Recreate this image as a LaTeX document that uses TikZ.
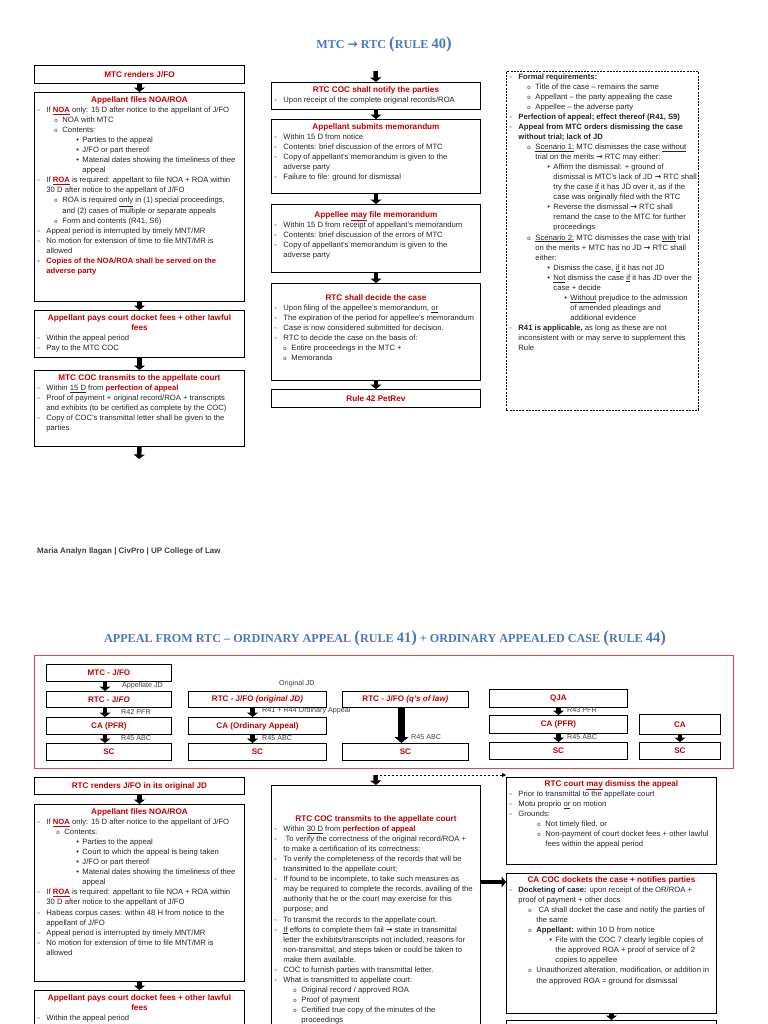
\documentclass[tikz,border=0pt]{standalone}
\usepackage{fontspec}
\setmainfont{Liberation Sans}
\newfontfamily\titlefont{Liberation Serif}
\newfontfamily\arwfont{DejaVu Sans}
\usepackage{xcolor}
\usepackage{tikz}
\usetikzlibrary{arrows.meta,positioning}
\definecolor{ink}{HTML}{262626}
\definecolor{hdred}{HTML}{C00000}
\definecolor{frame}{HTML}{E04A44}
\definecolor{ttl}{HTML}{4A78C0}
\definecolor{lblgray}{HTML}{404040}

\newcommand\bodyfont{\fontsize{7.7}{10.1}\selectfont}
\newcommand\hdfont{\fontsize{8.2}{10.1}\selectfont\bfseries}
\newcommand\ra{{\arwfont\bfseries →}}
\newcommand\nr[1]{\textcolor{hdred}{\bfseries\underline{#1}}}
\newcommand\hd[1]{\par{\centering\hdfont\color{hdred}#1\par}}
% list lines: bullet indent, text indent, symbol, text
\newcommand\itm[4]{\par\hangindent=#2\hangafter=1\noindent\hspace*{#1}\makebox[\dimexpr#2-#1\relax][l]{#3}#4\par}
\newcommand\la[1]{\itm{3bp}{12bp}{-}{#1}}
\newcommand\lb[2][20bp]{\itm{#1}{\dimexpr#1+8bp\relax}{{\fontsize{6}{5}\selectfont o}}{#2}}
\newcommand\lc[2][42bp]{\itm{#1}{\dimexpr#1+6bp\relax}{•}{#2}}
\newcommand\ld[1]{\itm{58bp}{64bp}{•}{#1}}
% card text: gap, width, height, content
\newcommand\ct[4][4bp]{\begin{minipage}[t][#3][t]{#2}\bodyfont\color{ink}\raggedright\vspace*{#1}#4\end{minipage}}
\newcommand\bigp[1]{{\fontsize{17}{17}\selectfont#1}}
\newcommand\midp[1]{{\fontsize{14.5}{15}\selectfont#1}}

\begin{document}
\begin{tikzpicture}[x=1bp,y=-1bp,
  card/.style={draw=black,line width=0.9bp,inner sep=0pt,anchor=north west},
  dcard/.style={card,dash pattern=on 2bp off 1.2bp},
  bar/.style={card,minimum height=18bp,font=\hdfont,text=hdred},
  flow/.style={card,minimum height=17bp,font=\fontsize{8.1}{9}\selectfont\bfseries,text=hdred},
  lbl/.style={inner sep=0pt,anchor=west,font=\fontsize{7.2}{8}\selectfont,text=lblgray},
  blk/.style={-{Triangle[width=11bp,length=4.5bp]},line width=4.5bp,black},
  bigblk/.style={-{Triangle[width=14bp,length=6bp]},line width=6.5bp,black},
  dsh/.style={-{Triangle[width=4bp,length=4bp]},line width=0.8bp,dash pattern=on 2.5bp off 1.5bp},
  ttlnode/.style={inner sep=0pt,font=\titlefont\bfseries\fontsize{12.2}{13}\selectfont,text=ttl}
]
\useasboundingbox (0,0) rectangle (768,1024);
\clip (0,0) rectangle (768,1024);
\fill[white] (0,0) rectangle (768,1024);

%% page 1: MTC -> RTC
\node[ttlnode] (t1) at (384,44) {MTC {\arwfont →} RTC \bigp{(}RULE \midp{40}\bigp{)}};

% left column
\node[bar,minimum width=210bp] (a1) at (34,65) {MTC renders J/FO};
\node[card] (a2) at (34,92) {\ct{210bp}{209bp}{%
  \hd{Appellant files NOA/ROA}
  \la{If \nr{NOA} only: 15 D after notice to the appellant of J/FO}
  \lb{NOA with MTC}
  \lb{Contents:}
  \lc{Parties to the appeal}
  \lc{J/FO or part thereof}
  \lc{Material dates showing the timeliness of thee\newline appeal}
  \la{If \nr{ROA} is required: appellant to file NOA + ROA within\newline 30 D after notice to the appellant of J/FO}
  \lb{ROA is required \underline{only} in (1) special proceedings,\newline and (2) cases of multiple or separate appeals}
  \lb{Form and contents (R41, S6)}
  \la{Appeal period is interrupted by timely MNT/MR}
  \la{No motion for extension of time to file MNT/MR is\newline allowed}
  {\color{hdred}\bfseries\la{Copies of the NOA/ROA shall be served on the\newline adverse party}}}};
\node[card] (a3) at (34,310) {\ct{210bp}{47bp}{%
  \hd{Appellant pays court docket fees + other lawful\\ fees}
  \la{Within the appeal period}
  \la{Pay to the MTC COC}}};
\node[card] (a4) at (34,370) {\ct{210bp}{76bp}{%
  \hd{MTC COC transmits to the appellate court}
  \la{Within \underline{15 D} from \textcolor{hdred}{\bfseries perfection of appeal}}
  \la{Proof of payment + original record/ROA + transcripts\newline and exhibits (to be certified as complete by the COC)}
  \la{Copy of COC’s transmittal letter shall be given to the\newline parties}}};
\coordinate (a5) at (139,459);
\draw[blk] (a1.south) -- (a2.north);
\draw[blk] (a2.south) -- (a3.north);
\draw[blk] (a3.south) -- (a4.north);
\draw[blk] (a4.south) -- (a5);

% middle column
\coordinate (b0) at (375.5,71);
\node[card] (b1) at (271,82) {\ct{209bp}{27bp}{%
  \hd{RTC COC shall notify the parties}
  \la{Upon receipt of the complete original records/ROA}}};
\node[card] (b2) at (271,119) {\ct{209bp}{74bp}{%
  \hd{Appellant submits memorandum}
  \la{Within 15 D from notice}
  \la{Contents: brief discussion of the errors of MTC}
  \la{Copy of appellant’s memorandum is given to the\newline adverse party}
  \la{Failure to file: ground for dismissal}}};
\node[card] (b3) at (271,204) {\ct[7bp]{209bp}{68bp}{%
  \hd{Appellee \underline{may} file memorandum}
  \la{Within 15 D from receipt of appellant’s memorandum}
  \la{Contents: brief discussion of the errors of MTC}
  \la{Copy of appellant’s memorandum is given to the\newline adverse party}}};
\node[card] (b4) at (271,283) {\ct[11bp]{209bp}{97bp}{%
  \hd{RTC shall decide the case}
  \la{Upon filing of the appellee’s memorandum, \underline{or}}
  \la{The expiration of the period for appellee’s memorandum}
  \la{Case is now considered submitted for decision.}
  \la{RTC to decide the case on the basis of:}
  \lb[12bp]{Entire proceedings in the MTC +}
  \lb[12bp]{Memoranda}}};
\node[bar,minimum width=209bp] (b5) at (271,389) {Rule 42 PetRev};
\draw[blk] (b0) -- (b1.north);
\draw[blk] (b1.south) -- (b2.north);
\draw[blk] (b2.south) -- (b3.north);
\draw[blk] (b3.south) -- (b4.north);
\draw[blk] (b4.south) -- (b5.north);

% right column
\node[dcard] (c1) at (506,71) {\ct[2bp]{192bp}{339bp}{%
  \la{\textbf{Formal requirements:}}
  \lb[21bp]{Title of the case – remains the same}
  \lb[21bp]{Appellant – the party appealing the case}
  \lb[21bp]{Appellee – the adverse party}
  \la{\textbf{Perfection of appeal; effect thereof (R41, S9)}}
  \la{\textbf{Appeal from MTC orders dismissing the case\newline without trial; lack of JD}}
  \lb[21bp]{\underline{Scenario 1:} MTC dismisses the case \underline{without}\newline trial on the merits \ra{} RTC may either:}
  \lc[41bp]{Affirm the dismissal: + ground of\newline dismissal is MTC’s lack of JD \ra{} RTC shall\newline try the case \underline{if} it has JD over it, as if the\newline case was originally filed with the RTC}
  \lc[41bp]{Reverse the dismissal \ra{} RTC shall\newline remand the case to the MTC for further\newline proceedings}
  \lb[21bp]{\underline{Scenario 2:} MTC dismisses the case \underline{with} trial\newline on the merits + MTC has no JD \ra{} RTC shall\newline either:}
  \lc[41bp]{Dismiss the case, \underline{if} it has not JD}
  \lc[41bp]{\underline{Not} dismiss the case \underline{if} it has JD over the\newline case + decide}
  \ld{\underline{Without} prejudice to the admission\newline of amended pleadings and\newline additional evidence}
  \la{\textbf{R41 is applicable,} as long as these are not\newline inconsistent with or may serve to supplement this\newline Rule}}};

\node[inner sep=0pt,anchor=west,font=\fontsize{8}{9}\selectfont\bfseries,text=lblgray] (foot) at (37,551)
  {Maria Analyn Ilagan | CivPro | UP College of Law};

%% page 2: RTC -> CA / SC
\node[ttlnode] (t2) at (385,638) {APPEAL FROM RTC – ORDINARY APPEAL \bigp{(}RULE \midp{41}\bigp{)} + ORDINARY APPEALED CASE \bigp{(}RULE \midp{44}\bigp{)}};
\node[card,draw=frame,minimum width=699bp,minimum height=113bp] (grp) at (34,655) {};

% appeal routes
\node[flow,minimum width=125bp] (f11) at (46,664) {MTC - J/FO};
\node[flow,minimum width=125bp,minimum height=16bp] (f12) at (46,691) {RTC - J/\textit{FO}};
\node[flow,minimum width=125bp] (f13) at (46,717) {CA (PFR)};
\node[flow,minimum width=125bp] (f14) at (46,743) {SC};
\node[flow,minimum width=138bp,minimum height=16bp] (f22) at (188,691) {RTC - J/FO \textit{(original JD)}};
\node[flow,minimum width=138bp] (f23) at (188,717) {CA (Ordinary Appeal)};
\node[flow,minimum width=138bp] (f24) at (188,743) {SC};
\node[flow,minimum width=126bp,minimum height=16bp] (f32) at (342,691) {RTC - J/FO \textit{(q’s of law)}};
\node[flow,minimum width=126bp] (f34) at (342,743) {SC};
\node[flow,minimum width=138bp,minimum height=18bp] (f41) at (489,689) {QJA};
\node[flow,minimum width=138bp,minimum height=18bp] (f42) at (489,715) {CA (PFR)};
\node[flow,minimum width=138bp] (f44) at (489,742) {SC};
\node[flow,minimum width=81bp,minimum height=20bp] (f52) at (639,714) {CA};
\node[flow,minimum width=81bp] (f54) at (639,742) {SC};

\draw[blk] ([xshift=-4bp]f11.south) -- ([xshift=-4bp]f12.north);
\draw[blk] ([xshift=-4bp]f12.south) -- ([xshift=-4bp]f13.north);
\draw[blk] ([xshift=-4bp]f13.south) -- ([xshift=-4bp]f14.north);
\draw[blk] ([xshift=-5bp]f22.south) -- ([xshift=-5bp]f23.north);
\draw[blk] ([xshift=-5bp]f23.south) -- ([xshift=-5bp]f24.north);
\draw[bigblk] ([xshift=-4bp]f32.south) -- ([xshift=-4bp]f34.north);
\draw[blk] (f41.south) -- (f42.north);
\draw[blk] (f42.south) -- (f44.north);
\draw[blk] (f52.south) -- (f54.north);

\node[lbl] (l11) at (122,686) {Appellate JD};
\node[lbl] (l12) at (121,711.5) {R42 PFR};
\node[lbl] (l13) at (121,738) {R45 ABC};
\node[lbl] (l21) at (279,684) {Original JD};
\node[lbl] (l22) at (262,711) {R41 + R44 Ordinary Appeal};
\node[lbl] (l23) at (262,738) {R45 ABC};
\node[lbl] (l33) at (411,737.5) {R45 ABC};
\node[lbl] (l41) at (567,710) {R43 PFR};
\node[lbl] (l42) at (567,737) {R45 ABC};

% left column
\node[bar,minimum width=210bp,minimum height=17bp] (k1) at (34,777) {RTC renders J/FO in its original JD};
\node[card] (k2) at (34,804) {\ct{210bp}{177bp}{%
  \hd{Appellant files NOA/ROA}
  \la{If \nr{NOA} only: 15 D after notice to the appellant of J/FO}
  \lb[22bp]{Contents:}
  \lc{Parties to the appeal}
  \lc{Court to which the appeal is being taken}
  \lc{J/FO or part thereof}
  \lc{Material dates showing the timeliness of thee\newline appeal}
  \la{If \nr{ROA} is required: appellant to file NOA + ROA within\newline 30 D after notice to the appellant of J/FO}
  \la{Habeas corpus cases: within 48 H from notice to the\newline appellant of J/FO}
  \la{Appeal period is interrupted by timely MNT/MR}
  \la{No motion for extension of time to file MNT/MR is\newline allowed}}};
\node[card] (k3) at (34,990) {\ct{210bp}{60bp}{%
  \hd{Appellant pays court docket fees + other lawful\\ fees}
  \la{Within the appeal period}
  \la{Pay to the RTC COC}}};
\draw[blk] (k1.south) -- (k2.north);
\draw[blk] (k2.south) -- (k3.north);

% middle column
\coordinate (split) at (375.5,775);
\node[card] (n1) at (271,785) {\ct[30bp]{209bp}{280bp}{%
  \hd{RTC COC transmits to the appellate court}
  \la{Within \underline{30 D} from \textcolor{hdred}{\bfseries perfection of appeal}}
  \la{\ To verify the correctness of the original record/ROA +\newline to make a certification of its correctness;}
  \la{To verify the completeness of the records that will be\newline transmitted to the appellate court;}
  \la{If found to be incomplete, to take such measures as\newline may be required to complete the records, availing of the\newline authority that he or the court may exercise for this\newline purpose; and}
  \la{To transmit the records to the appellate court.}
  \la{\underline{If} efforts to complete them fail \ra{} state in transmittal\newline letter the exhibits/transcripts not included, reasons for\newline non-transmittal, and steps taken or could be taken to\newline make them available.}
  \la{COC to furnish parties with transmittal letter.}
  \la{What is transmitted to appellate court:}
  \lb[22bp]{Original record / approved ROA}
  \lb[22bp]{Proof of payment}
  \lb[22bp]{Certified true copy of the minutes of the\newline proceedings}}};
\draw[blk] (split) -- (n1.north);

% right column
\node[card] (o1) at (506,777) {\ct[3bp]{210bp}{87bp}{%
  \hd{RTC court \underline{may} dismiss the appeal}
  \la{Prior to transmittal to the appellate court}
  \la{Motu proprio \underline{or} on motion}
  \la{Grounds:}
  \lb[31bp]{Not timely filed, or}
  \lb[31bp]{Non-payment of court docket fees + other lawful\newline fees within the appeal period}}};
\node[card] (p1) at (506,873) {\ct[3bp]{210bp}{140bp}{%
  \hd{CA COC dockets the case + notifies parties}
  \la{\textbf{Docketing of case:} upon receipt of the OR/ROA +\newline proof of payment + other docs}
  \lb[22bp]{\ CA shall docket the case and notify the parties of\newline the same}
  \lb[22bp]{\textbf{Appellant:} within 10 D from notice}
  \lc[43bp]{File with the COC 7 clearly legible copies of\newline the approved ROA + proof of service of 2\newline copies to appellee}
  \lb[22bp]{Unauthorized alteration, modification, or addition in\newline the approved ROA = ground for dismissal}}};
\node[card,minimum width=210bp,minimum height=40bp] (q1) at (506,1020) {};
\coordinate (tap) at (480,882);
\draw[dsh] (split) -- (split -| o1.west);
\draw[blk] (tap) -- (tap -| p1.west);
\draw[blk] (p1.south) -- (q1.north);
\end{tikzpicture}
\end{document}
